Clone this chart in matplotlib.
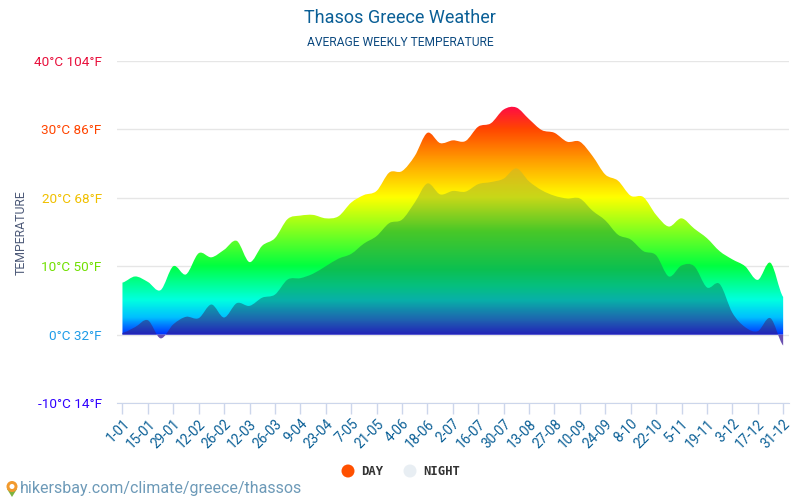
import numpy as np
import matplotlib
matplotlib.use('Agg')
import matplotlib.pyplot as plt
from matplotlib.path import Path
from matplotlib.patches import PathPatch, Circle, Polygon
from matplotlib.colors import LinearSegmentedColormap

plt.rcParams['font.family'] = ['Roboto', 'DejaVu Sans']

# weekly values
day_temp = [7.6, 8.5, 7.7, 6.5, 10.0, 8.8, 11.9, 11.3, 12.4, 13.7, 10.6, 13.0, 14.1, 16.9, 17.4, 17.5, 17.0, 17.3,
            19.3, 20.4, 21.0, 23.7, 23.9, 26.1, 29.5, 28.0, 28.4, 28.3, 30.4, 30.9, 32.9, 33.2, 31.5, 29.9, 29.5,
            28.2, 28.2, 26.1, 23.4, 22.5, 20.3, 20.1, 17.5, 15.8, 17.0, 15.5, 14.1, 12.2, 11.0, 10.0, 8.0, 10.5, 5.5]
night_temp = [0.25, 1.1, 2.1, -0.55, 1.5, 2.6, 2.4, 4.4, 2.5, 4.6, 4.2, 5.4, 5.85, 8.05, 8.25, 8.9, 10.0, 11.1,
              11.8, 13.3, 14.4, 16.3, 16.8, 19.3, 22.1, 20.5, 21.0, 20.9, 22.0, 22.3, 22.8, 24.3, 22.4, 21.1, 20.3,
              19.9, 19.9, 18.1, 16.7, 14.6, 13.9, 12.2, 11.6, 8.5, 10.1, 10.0, 6.9, 7.4, 3.2, 1.1, 0.5, 2.4, -1.6]
tick_labels = ['1-01', '15-01', '29-01', '12-02', '26-02', '12-03', '26-03', '9-04', '23-04', '7-05', '21-05',
               '4-06', '18-06', '2-07', '16-07', '30-07', '13-08', '27-08', '10-09', '24-09', '8-10', '22-10',
               '5-11', '19-11', '3-12', '17-12', '31-12']
y_ticks = [-10, 0, 10, 20, 30, 40]
y_labels = ['-10°C 14°F', '0°C 32°F', '10°C 50°F', '20°C 68°F', '30°C 86°F', '40°C 104°F']
y_colors = ['#3000ff', '#1e9ce8', '#70e000', '#f0c000', '#ff4500', '#e8103c']

day_stops = [(-10, '#2000ff'), (0, '#0030ff'), (2.5, '#00c0ff'), (5, '#00ffe0'), (10, '#00ff40'),
             (20, '#ffff00'), (25, '#ffa500'), (30, '#ff4500'), (33, '#ff1040'), (40, '#ff0060')]
night_stops = [(-10, '#6a50b0'), (-0.01, '#6a50b0'), (0, '#2222b8'), (2, '#1f60b0'), (5, '#08b0a8'), (7, '#05bf80'),
               (9.5, '#0cc050'), (15, '#48c828'), (20, '#c8d818'), (24, '#e0b818'), (40, '#e0b818')]


def make_cmap(stops):
	return LinearSegmentedColormap.from_list('g', [((v + 10) / 50, c) for v, c in stops], N=1024)


def smooth_area(x, y):
	# closed catmull-rom area down to the zero line
	verts = [(x[0], 0), (x[0], y[0])]
	codes = [Path.MOVETO, Path.LINETO]
	for i in range(len(x) - 1):
		y0 = y[max(i - 1, 0)]
		y3 = y[min(i + 2, len(y) - 1)]
		verts += [(x[i] + 1 / 3, y[i] + (y[i + 1] - y0) / 6),
		          (x[i + 1] - 1 / 3, y[i + 1] - (y3 - y[i]) / 6),
		          (x[i + 1], y[i + 1])]
		codes += [Path.CURVE4] * 3
	verts += [(x[-1], 0), (x[0], 0)]
	codes += [Path.LINETO, Path.CLOSEPOLY]
	return Path(verts, codes)


def draw_area(ax, x, y, stops, z):
	grad = np.linspace(40, -10, 1000).reshape(-1, 1)
	im = ax.imshow(grad, extent=(-1, 53, -10, 40), aspect='auto', cmap=make_cmap(stops), vmin=-10, vmax=40, zorder=z)
	patch = PathPatch(smooth_area(x, y), transform=ax.transData, fc='none', ec='none')
	ax.add_patch(patch)
	im.set_clip_path(patch)


fig = plt.figure(figsize=(8, 5), dpi=100)
ax = fig.add_axes([117 / 800, 97 / 500, 672 / 800, 342 / 500])

weeks = np.arange(len(day_temp))
draw_area(ax, weeks, day_temp, day_stops, 2)
draw_area(ax, weeks, night_temp, night_stops, 3)

ax.set_xlim(-0.43, 52.46)
ax.set_ylim(-10, 40)
ax.set_xticks(weeks[::2])
ax.set_xticklabels(tick_labels, rotation=45, ha='right', rotation_mode='anchor', fontsize=9.8, color='#0a5f96')
ax.tick_params(axis='x', length=8, width=1, color='#ccd6eb', pad=2)
ax.set_yticks(y_ticks)
ax.set_yticklabels(y_labels, fontsize=9.7)
for lab, col in zip(ax.get_yticklabels(), y_colors):
	lab.set_color(col)
ax.tick_params(axis='y', length=0, pad=11)
ax.grid(axis='y', color='#e6e6e6', lw=1, zorder=1)
ax.set_axisbelow(True)
for s in ['top', 'left', 'right']:
	ax.spines[s].set_visible(False)
ax.spines['bottom'].set_color('#ccd6eb')

fig.text(400 / 800, 1 - 18 / 500, 'Thasos Greece Weather', ha='center', va='center', fontsize=12.95, color='#0a5f96')
fig.text(400 / 800, 1 - 42 / 500, 'AVERAGE WEEKLY TEMPERATURE', ha='center', va='center', fontsize=8.65, color='#0d4a80')
fig.text(21 / 800, 1 - 233 / 500, 'TEMPERATURE', rotation=90, ha='center', va='center', fontsize=8.8, color='#4d5a78')

# legend
overlay = fig.add_axes([0, 0, 1, 1], facecolor='none')
overlay.set_xlim(0, 800)
overlay.set_ylim(500, 0)
overlay.axis('off')
overlay.add_patch(Circle((348, 471), 6.5, fc='#ff5000', ec='none'))
overlay.add_patch(Circle((410, 471), 6.5, fc='#e8eef3', ec='none'))
overlay.text(361, 471.5, 'DAY', va='center', fontsize=8.8, fontweight='bold', color='#333333', family='DejaVu Sans Mono')
overlay.text(423, 471.5, 'NIGHT', va='center', fontsize=8.8, fontweight='bold', color='#333333', family='DejaVu Sans Mono')

# source line with a small pin
overlay.add_patch(Polygon([(7, 489), (17, 489), (12, 497)], fc='#7cb342', ec='none'))
overlay.add_patch(Circle((12, 486.5), 5.5, fc='#f29a2e', ec='none'))
overlay.add_patch(Circle((12, 486.5), 2.5, fc='white', ec='none'))
overlay.text(20, 489, 'hikersbay.com/climate/greece/thassos', va='center', fontsize=11.55, color='#6d9ab8')

fig.savefig('out.png', dpi=100)
